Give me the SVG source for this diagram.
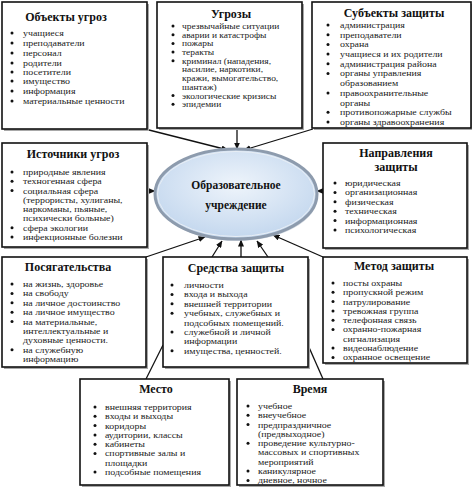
<svg xmlns="http://www.w3.org/2000/svg" width="474" height="487" viewBox="0 0 474 487">
<defs>
<style>
.box{fill:#fff;stroke:#111;stroke-width:1.6}
.sh{fill:#a8a8a8}
.t{font-family:"Liberation Serif","Times New Roman",serif;font-weight:bold;font-size:12px;text-anchor:middle;fill:#111}
.i{font-family:"Liberation Serif","Times New Roman",serif;font-size:9px;fill:#222}
.b{fill:#111}
.c{stroke:#111;stroke-width:1.3;fill:none}
.e{font-family:"Liberation Serif","Times New Roman",serif;font-weight:bold;font-size:11.5px;text-anchor:middle;fill:#111}
</style>
<marker id="ah" markerWidth="7" markerHeight="6" refX="6.5" refY="3" orient="auto" markerUnits="userSpaceOnUse">
<path d="M0,0 L7,3 L0,6 Z" fill="#111"/>
</marker>
<radialGradient id="eg" cx="0.5" cy="0.4" r="0.6">
<stop offset="0" stop-color="#eef4fb"/>
<stop offset="1" stop-color="#c3d7ee"/>
</radialGradient>
</defs>

<g id="connectors">
<line class="c" x1="145" y1="129" x2="228" y2="150" marker-end="url(#ah)"/>
<line class="c" x1="237" y1="129" x2="237" y2="149" marker-end="url(#ah)"/>
<line class="c" x1="313" y1="129" x2="244" y2="150" marker-end="url(#ah)"/>
<line class="c" x1="147" y1="191" x2="155" y2="191" marker-end="url(#ah)"/>
<line class="c" x1="323" y1="191" x2="317" y2="191" marker-end="url(#ah)"/>
<line class="c" x1="146" y1="257" x2="205" y2="237" marker-end="url(#ah)"/>
<line class="c" x1="212" y1="257" x2="222" y2="241" marker-end="url(#ah)"/>
<line class="c" x1="241" y1="257" x2="241" y2="240" marker-end="url(#ah)"/>
<line class="c" x1="268" y1="257" x2="257" y2="241" marker-end="url(#ah)"/>
<line class="c" x1="323" y1="257" x2="273" y2="235" marker-end="url(#ah)"/>
<line class="c" x1="163" y1="345" x2="146" y2="379"/>
<line class="c" x1="308" y1="345" x2="323" y2="379"/>
</g>

<g id="center">
<ellipse cx="237" cy="196" rx="81" ry="45" fill="#b9c3cf" opacity="0.6"/>
<ellipse cx="236" cy="194" rx="81" ry="45" fill="url(#eg)" stroke="#8d9bad" stroke-width="3"/>
<ellipse cx="236" cy="194" rx="78.5" ry="42.5" fill="none" stroke="#e8eef5" stroke-width="1"/>
<text class="e" x="236" y="189">Образовательное</text>
<text class="e" x="236" y="209">учреждение</text>
</g>

<g id="objects">
<rect class="sh" x="4" y="4" width="145" height="127"/>
<rect class="box" x="2" y="2" width="145" height="127"/>
<text class="t" x="66" y="21">Объекты угроз</text>
<circle class="b" cx="12" cy="33" r="1.5"/>
<circle class="b" cx="12" cy="43" r="1.5"/>
<circle class="b" cx="12" cy="53" r="1.5"/>
<circle class="b" cx="12" cy="63" r="1.5"/>
<circle class="b" cx="12" cy="72" r="1.5"/>
<circle class="b" cx="12" cy="81" r="1.5"/>
<circle class="b" cx="12" cy="91" r="1.5"/>
<circle class="b" cx="12" cy="101" r="1.5"/>
<g transform="matrix(1.1,0,0,1,-2.3,0)">
<text class="i" x="23" y="36">учащиеся</text>
<text class="i" x="23" y="46">преподаватели</text>
<text class="i" x="23" y="56">персонал</text>
<text class="i" x="23" y="66">родители</text>
<text class="i" x="23" y="75">посетители</text>
<text class="i" x="23" y="84">имущество</text>
<text class="i" x="23" y="94">информация</text>
<text class="i" x="23" y="104">материальные ценности</text>
</g>
</g>

<g id="threats">
<rect class="sh" x="159" y="4" width="145" height="126"/>
<rect class="box" x="157" y="2" width="145" height="126"/>
<text class="t" x="231" y="18">Угрозы</text>
<circle class="b" cx="173" cy="26" r="1.5"/>
<circle class="b" cx="173" cy="34.7" r="1.5"/>
<circle class="b" cx="173" cy="43.4" r="1.5"/>
<circle class="b" cx="173" cy="52.1" r="1.5"/>
<circle class="b" cx="173" cy="60.8" r="1.5"/>
<circle class="b" cx="173" cy="95.6" r="1.5"/>
<circle class="b" cx="173" cy="104.3" r="1.5"/>
<g transform="matrix(1.05,0,0,1,-9.1,0)">
<text class="i" x="182" y="29">чрезвычайные ситуации</text>
<text class="i" x="182" y="37.7">аварии и катастрофы</text>
<text class="i" x="182" y="46.4">пожары</text>
<text class="i" x="182" y="55.1">теракты</text>
<text class="i" x="182" y="63.8">криминал (нападения,</text>
<text class="i" x="182" y="72.5">насилие, наркотики,</text>
<text class="i" x="182" y="81.2">кражи, вымогательство,</text>
<text class="i" x="182" y="89.9">шантаж)</text>
<text class="i" x="182" y="98.6">экологические кризисы</text>
<text class="i" x="182" y="107.3">эпидемии</text>
</g>
</g>

<g id="subjects">
<rect class="sh" x="314" y="4" width="158" height="126"/>
<rect class="box" x="312" y="2" width="159" height="126"/>
<text class="t" x="394" y="17">Субъекты защиты</text>
<circle class="b" cx="328" cy="25" r="1.5"/>
<circle class="b" cx="328" cy="34.7" r="1.5"/>
<circle class="b" cx="328" cy="44.4" r="1.5"/>
<circle class="b" cx="328" cy="54.1" r="1.5"/>
<circle class="b" cx="328" cy="63.8" r="1.5"/>
<circle class="b" cx="328" cy="73.5" r="1.5"/>
<circle class="b" cx="328" cy="92.9" r="1.5"/>
<circle class="b" cx="328" cy="112.3" r="1.5"/>
<circle class="b" cx="328" cy="122" r="1.5"/>
<g transform="matrix(1.1,0,0,1,-34,0)">
<text class="i" x="340" y="28">администрация</text>
<text class="i" x="340" y="37.7">преподаватели</text>
<text class="i" x="340" y="47.4">охрана</text>
<text class="i" x="340" y="57.1">учащиеся и их родители</text>
<text class="i" x="340" y="66.8">администрация района</text>
<text class="i" x="340" y="76.5">органы управления</text>
<text class="i" x="340" y="86.2">образованием</text>
<text class="i" x="340" y="95.9">правоохранительные</text>
<text class="i" x="340" y="105.6">органы</text>
<text class="i" x="340" y="115.3">противопожарные службы</text>
<text class="i" x="340" y="125">органы здравоохранения</text>
</g>
</g>

<g id="sources">
<rect class="sh" x="4" y="145" width="145" height="104"/>
<rect class="box" x="2" y="143" width="145" height="104"/>
<text class="t" x="73" y="158">Источники угроз</text>
<circle class="b" cx="12" cy="172" r="1.5"/>
<circle class="b" cx="12" cy="181.3" r="1.5"/>
<circle class="b" cx="12" cy="190.6" r="1.5"/>
<circle class="b" cx="12" cy="227.8" r="1.5"/>
<circle class="b" cx="12" cy="237.1" r="1.5"/>
<g transform="matrix(1.1,0,0,1,-2.3,0)">
<text class="i" x="23" y="175">природные явления</text>
<text class="i" x="23" y="184.3">техногенная сфера</text>
<text class="i" x="23" y="193.6">социальная сфера</text>
<text class="i" x="23" y="202.9">(террористы, хулиганы,</text>
<text class="i" x="23" y="212.2">наркоманы, пьяные,</text>
<text class="i" x="23" y="221.5">психически больные)</text>
<text class="i" x="23" y="230.8">сфера экологии</text>
<text class="i" x="23" y="240.1">инфекционные болезни</text>
</g>
</g>

<g id="directions">
<rect class="sh" x="325" y="145" width="144" height="105"/>
<rect class="box" x="323" y="143" width="144" height="105"/>
<text class="t" x="396" y="157">Направления</text>
<text class="t" x="396" y="171">защиты</text>
<circle class="b" cx="335" cy="183" r="1.5"/>
<circle class="b" cx="335" cy="192.4" r="1.5"/>
<circle class="b" cx="335" cy="201.8" r="1.5"/>
<circle class="b" cx="335" cy="211.2" r="1.5"/>
<circle class="b" cx="335" cy="220.6" r="1.5"/>
<circle class="b" cx="335" cy="230" r="1.5"/>
<g transform="matrix(1.1,0,0,1,-34.5,0)">
<text class="i" x="345" y="186">юридическая</text>
<text class="i" x="345" y="195.4">организационная</text>
<text class="i" x="345" y="204.8">физическая</text>
<text class="i" x="345" y="214.2">техническая</text>
<text class="i" x="345" y="223.6">информационная</text>
<text class="i" x="345" y="233">психологическая</text>
</g>
</g>

<g id="encroachments">
<rect class="sh" x="4" y="259" width="144" height="110"/>
<rect class="box" x="2" y="257" width="144" height="110"/>
<text class="t" x="68" y="271">Посягательства</text>
<circle class="b" cx="12" cy="284" r="1.5"/>
<circle class="b" cx="12" cy="293.4" r="1.5"/>
<circle class="b" cx="12" cy="302.8" r="1.5"/>
<circle class="b" cx="12" cy="312.2" r="1.5"/>
<circle class="b" cx="12" cy="321.6" r="1.5"/>
<circle class="b" cx="12" cy="349.8" r="1.5"/>
<g transform="matrix(1.1,0,0,1,-2.3,0)">
<text class="i" x="23" y="287">на жизнь, здоровье</text>
<text class="i" x="23" y="296.4">на свободу</text>
<text class="i" x="23" y="305.8">на личное достоинство</text>
<text class="i" x="23" y="315.2">на личное имущество</text>
<text class="i" x="23" y="324.6">на материальные,</text>
<text class="i" x="23" y="334">интеллектуальные и</text>
<text class="i" x="23" y="343.4">духовные ценности.</text>
<text class="i" x="23" y="352.8">на служебную</text>
<text class="i" x="23" y="362.2">информацию</text>
</g>
</g>

<g id="means">
<rect class="sh" x="165" y="259" width="145" height="110"/>
<rect class="box" x="163" y="257" width="145" height="110"/>
<text class="t" x="236" y="272">Средства защиты</text>
<circle class="b" cx="172" cy="285" r="1.5"/>
<circle class="b" cx="172" cy="294.4" r="1.5"/>
<circle class="b" cx="172" cy="303.8" r="1.5"/>
<circle class="b" cx="172" cy="313.2" r="1.5"/>
<circle class="b" cx="172" cy="332" r="1.5"/>
<circle class="b" cx="172" cy="350.8" r="1.5"/>
<g transform="matrix(1.1,0,0,1,-18.4,0)">
<text class="i" x="184" y="288">личности</text>
<text class="i" x="184" y="297.4">входа и выхода</text>
<text class="i" x="184" y="306.8">внешней территории</text>
<text class="i" x="184" y="316.2">учебных, служебных и</text>
<text class="i" x="184" y="325.6">подсобных помещений.</text>
<text class="i" x="184" y="335">служебной и личной</text>
<text class="i" x="184" y="344.4">информации</text>
<text class="i" x="184" y="353.8">имущества, ценностей.</text>
</g>
</g>

<g id="method">
<rect class="sh" x="325" y="259" width="144" height="106"/>
<rect class="box" x="323" y="257" width="144" height="106"/>
<text class="t" x="394" y="270">Метод защиты</text>
<circle class="b" cx="333" cy="283" r="1.5"/>
<circle class="b" cx="333" cy="292.3" r="1.5"/>
<circle class="b" cx="333" cy="301.6" r="1.5"/>
<circle class="b" cx="333" cy="310.9" r="1.5"/>
<circle class="b" cx="333" cy="320.2" r="1.5"/>
<circle class="b" cx="333" cy="329.5" r="1.5"/>
<circle class="b" cx="333" cy="348.1" r="1.5"/>
<circle class="b" cx="333" cy="357.4" r="1.5"/>
<g transform="matrix(1.1,0,0,1,-34.3,0)">
<text class="i" x="343" y="286">посты охраны</text>
<text class="i" x="343" y="295.3">пропускной режим</text>
<text class="i" x="343" y="304.6">патрулирование</text>
<text class="i" x="343" y="313.9">тревожная группа</text>
<text class="i" x="343" y="323.2">телефонная связь</text>
<text class="i" x="343" y="332.5">охранно-пожарная</text>
<text class="i" x="343" y="341.8">сигнализация</text>
<text class="i" x="343" y="351.1">видеонаблюдение</text>
<text class="i" x="343" y="360.4">охранное освещение</text>
</g>
</g>

<g id="place">
<rect class="sh" x="82" y="381" width="149" height="106"/>
<rect class="box" x="80" y="379" width="149" height="106"/>
<text class="t" x="156" y="393">Место</text>
<circle class="b" cx="95" cy="407" r="1.5"/>
<circle class="b" cx="95" cy="416.3" r="1.5"/>
<circle class="b" cx="95" cy="425.6" r="1.5"/>
<circle class="b" cx="95" cy="434.9" r="1.5"/>
<circle class="b" cx="95" cy="444.2" r="1.5"/>
<circle class="b" cx="95" cy="453.5" r="1.5"/>
<circle class="b" cx="95" cy="472.1" r="1.5"/>
<g transform="matrix(1.1,0,0,1,-10.5,0)">
<text class="i" x="105" y="410">внешняя территория</text>
<text class="i" x="105" y="419.3">входы и выходы</text>
<text class="i" x="105" y="428.6">коридоры</text>
<text class="i" x="105" y="437.9">аудитории, классы</text>
<text class="i" x="105" y="447.2">кабинеты</text>
<text class="i" x="105" y="456.5">спортивные залы и</text>
<text class="i" x="105" y="465.8">площадки</text>
<text class="i" x="105" y="475.1">подсобные помещения</text>
</g>
</g>

<g id="time">
<rect class="sh" x="239" y="381" width="146" height="106"/>
<rect class="box" x="237" y="379" width="146" height="106"/>
<text class="t" x="310" y="393">Время</text>
<circle class="b" cx="248" cy="406" r="1.5"/>
<circle class="b" cx="248" cy="415.3" r="1.5"/>
<circle class="b" cx="248" cy="424.6" r="1.5"/>
<circle class="b" cx="248" cy="443.2" r="1.5"/>
<circle class="b" cx="248" cy="471.1" r="1.5"/>
<circle class="b" cx="248" cy="480.4" r="1.5"/>
<g transform="matrix(1.1,0,0,1,-25.8,0)">
<text class="i" x="258" y="409">учебное</text>
<text class="i" x="258" y="418.3">внеучебное</text>
<text class="i" x="258" y="427.6">предпраздничное</text>
<text class="i" x="258" y="436.9">(предвыходное)</text>
<text class="i" x="258" y="446.2">проведение культурно-</text>
<text class="i" x="258" y="455.5">массовых и спортивных</text>
<text class="i" x="258" y="464.8">мероприятий</text>
<text class="i" x="258" y="474.1">каникулярное</text>
<text class="i" x="258" y="483.4">дневное, ночное</text>
</g>
</g>
</svg>
